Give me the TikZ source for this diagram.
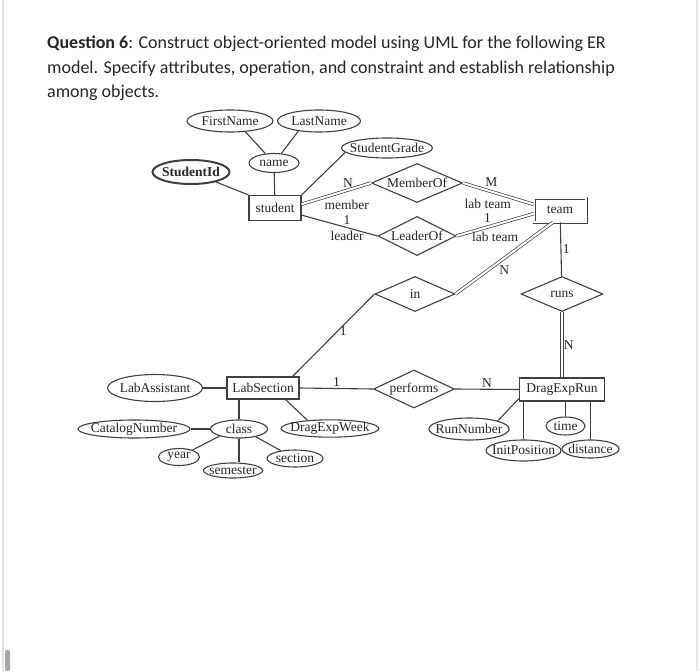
\documentclass[tikz,border=0pt]{standalone}
\usepackage{fontspec}
\setmainfont{Liberation Serif}
\newfontfamily\qfont{Carlito}
\usepackage{tikz}
\usetikzlibrary{shapes}
\usetikzlibrary{positioning}

\begin{document}
\begin{tikzpicture}[x=1pt, y=-1pt, font=\fontsize{13.5}{15}\selectfont]
  \tikzstyle{attr}=[ellipse, draw=black!75, line width=1.1pt, text=black!85, inner xsep=-5pt, inner ysep=0pt]
  \tikzstyle{ent}=[rectangle, draw=black!75, line width=1.1pt, text=black!85, inner sep=2pt]
  \tikzstyle{rel}=[diamond, draw=black!75, line width=1.1pt, text=black!85, inner sep=0pt, aspect=2.3]
  \tikzstyle{conn}=[draw=black!75, line width=1.1pt]
  \tikzstyle{dconn}=[draw=black!75, line width=0.7pt, double, double distance=2pt]
  \tikzstyle{card}=[text=black!85, inner sep=1.5pt]
  \useasboundingbox (0,0) rectangle (700,671);
  \draw[black!12, line width=1.5pt] (3,0) -- (3,671);
  \draw[black!10, line width=1.5pt] (697,0) -- (697,671);
  \fill[black!35, rounded corners=2pt] (5,650) rectangle (10,671);

  \node (title) [anchor=north west, align=left, inner sep=0pt, text=black!85, font=\qfont\fontsize{18}{24.5}\selectfont] at (47,36) {\textbf{Question 6}: Construct object-oriented model using UML for the following ER\\model. Specify attributes, operation, and constraint and establish relationship\\among objects.};

  \node (student) [ent, minimum width=52pt, minimum height=25pt] at (275,208) {student};
  \node (team) [ent, double, double distance=1.6pt, line width=0.7pt, minimum width=52pt, minimum height=24pt] at (560,210) {team};
  \node (labsec) [ent, line width=1.6pt, minimum width=72pt, minimum height=22pt] at (263,388) {LabSection};
  \node (run) [ent, minimum width=85pt, minimum height=23pt] at (562,389.5) {DragExpRun};

  \node (memberof) [rel, minimum width=91pt, minimum height=39pt] at (417,183) {MemberOf};
  \node (leaderof) [rel, minimum width=78pt, minimum height=39pt] at (417,236) {LeaderOf};
  \node (in) [rel, minimum width=80pt, minimum height=35pt] at (415,294) {in};
  \node (runs) [rel, minimum width=82pt, minimum height=35pt] at (562,294) {runs};
  \node (performs) [rel, minimum width=81pt, minimum height=38pt] at (414,389) {performs};

  \node (firstname) [attr, minimum width=86pt, minimum height=22pt] at (230,121) {FirstName};
  \node (lastname) [attr, minimum width=83pt, minimum height=22pt] at (319,121) {LastName};
  \node (grade) [attr, minimum width=90pt, minimum height=20pt] at (387,148) {StudentGrade};
  \node (name) [attr, minimum width=50pt, minimum height=19pt] at (274,163) {name};
  \node (sid) [attr, line width=2pt, minimum width=77pt, minimum height=24pt] at (191,172) {\bfseries StudentId};
  \node (labasst) [attr, minimum width=95pt, minimum height=27pt] at (155,388) {LabAssistant};
  \node (class) [attr, minimum width=57pt, minimum height=18pt] at (239,429) {class};
  \node (catalog) [attr, minimum width=112pt, minimum height=18pt] at (134,429) {CatalogNumber};
  \node (week) [attr, minimum width=95pt, minimum height=17pt] at (330,428.5) {DragExpWeek};
  \node (year) [attr, minimum width=41pt, minimum height=17pt] at (179,457) {year};
  \node (semester) [attr, minimum width=59pt, minimum height=15pt] at (233,470.5) {semester};
  \node (section) [attr, minimum width=56pt, minimum height=17pt] at (295,458.5) {section};
  \node (runno) [attr, minimum width=77pt, minimum height=22pt] at (469,429) {RunNumber};
  \node (initpos) [attr, minimum width=71pt, minimum height=21pt] at (523.5,450.5) {InitPosition};
  \node (time) [attr, minimum width=39pt, minimum height=18pt] at (565.5,426) {time};
  \node (distance) [attr, minimum width=57pt, minimum height=18pt] at (590.5,449) {distance};

  \draw[conn] (firstname.-35) -- (name);
  \draw[conn] (lastname.206) -- (name);
  \draw[conn] (name) -- (student);
  \draw[conn] (sid) -- (student.north west);
  \draw[conn] (grade.186) -- (student.north east);
  \draw[dconn] (student.8) -- node[card, above=1pt, pos=.67]{N} node[card, below=8pt, pos=.65]{member} (memberof.west);
  \draw[conn] (student.-15) -- node[card, above=1pt, pos=.6]{1} node[card, below=1pt, pos=.6]{leader} (leaderof.west);
  \draw[dconn] (memberof.east) -- node[card, above=3pt, pos=.4]{M} node[card, below=7pt, pos=.35]{lab team} (team.168);
  \draw[dconn] (leaderof.east) -- node[card, above=3pt, pos=.4]{1} node[card, below=5pt, pos=.5]{lab team} (team.188);
  \draw[dconn] (in.east) -- node[card, below=6pt, pos=.5]{N} (team.240);
  \draw[conn] (team) -- node[card, right]{1} (runs);
  \draw[dconn] (runs) -- node[card, right]{N} (run);
  \draw[conn] (labsec.east) -- node[card, above]{1} (performs.west);
  \draw[conn] (performs.east) -- node[card, above]{N} (run.west);
  \draw[conn] ([xshift=-7pt]labsec.north east) -- node[card, right, pos=.55]{1} (in.west);
  \draw[conn] (labasst) -- (labsec);
  \draw[conn] (class.north) -- (class.north |- labsec.south);
  \draw[conn] ([xshift=-14pt]labsec.south east) -- (week.160);
  \draw[conn] (catalog) -- (class);
  \draw[conn] (class.200) -- (year);
  \draw[conn] (class.south) -- (class.south |- semester.north);
  \draw[conn] (class.-25) -- (section);
  \draw[conn] (runno.north east) -- ([yshift=3pt]run.south west);
  \draw[conn] (initpos.north) -- (initpos.north |- run.south);
  \draw[conn] (time.north) -- (time.north |- run.south);
  \draw[conn] (distance.north) -- (distance.north |- run.south);
\end{tikzpicture}
\end{document}
